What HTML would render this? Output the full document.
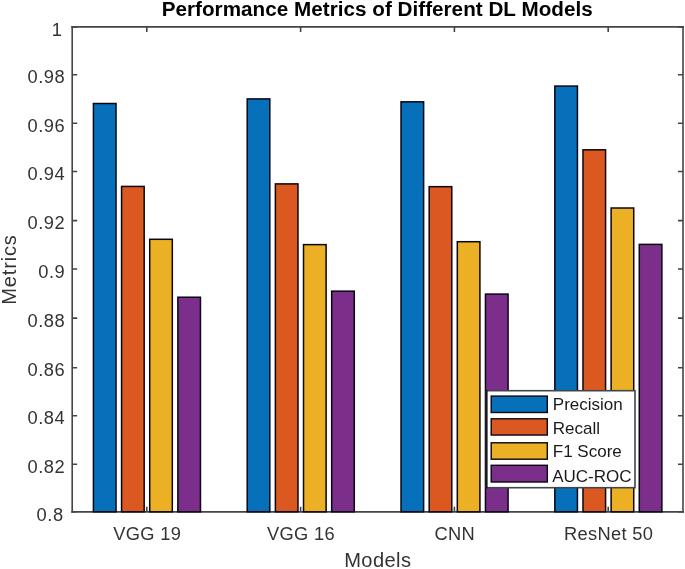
<!DOCTYPE html>
<html><head><meta charset="utf-8"><title>Performance Metrics of Different DL Models</title>
<style>
html,body{margin:0;padding:0;background:#fff;}
body{width:685px;height:569px;overflow:hidden;}
svg{display:block;font-family:"Liberation Sans",Arial,Helvetica,sans-serif;}
</style></head><body>
<svg width="685" height="569" viewBox="0 0 685 569">
<rect x="0" y="0" width="685" height="569" fill="#ffffff"/>
<path d="M72.2 26.0V512.7M683.0 26.0V512.7" stroke="#42464a" stroke-width="1.6" fill="none"/>
<path d="M71.2 26.9H684.0M71.2 511.8H684.0" stroke="#42464a" stroke-width="1.7" fill="none"/>
<path d="M72.2 26.90h5.0M683.0 26.90h-5.0M72.2 74.80h5.0M683.0 74.80h-5.0M72.2 123.20h5.0M683.0 123.20h-5.0M72.2 171.50h5.0M683.0 171.50h-5.0M72.2 220.60h5.0M683.0 220.60h-5.0M72.2 269.00h5.0M683.0 269.00h-5.0M72.2 318.10h5.0M683.0 318.10h-5.0M72.2 367.80h5.0M683.0 367.80h-5.0M72.2 415.70h5.0M683.0 415.70h-5.0M72.2 464.20h5.0M683.0 464.20h-5.0M72.2 511.80h5.0M683.0 511.80h-5.0M146.80 26.9v5.0M146.80 511.8v-5.0M300.60 26.9v5.0M300.60 511.8v-5.0M454.40 26.9v5.0M454.40 511.8v-5.0M608.20 26.9v5.0M608.20 511.8v-5.0" stroke="#42464a" stroke-width="1.6" fill="none"/>
<rect x="93.42" y="103.51" width="22.60" height="408.29" fill="#0671BA" stroke="#0a0612" stroke-width="1.5"/>
<rect x="121.58" y="186.43" width="22.60" height="325.37" fill="#DB5820" stroke="#0a0612" stroke-width="1.5"/>
<rect x="149.72" y="239.29" width="22.60" height="272.51" fill="#ECB024" stroke="#0a0612" stroke-width="1.5"/>
<rect x="177.87" y="297.23" width="22.60" height="214.57" fill="#7C2E8B" stroke="#0a0612" stroke-width="1.5"/>
<rect x="247.22" y="98.91" width="22.60" height="412.89" fill="#0671BA" stroke="#0a0612" stroke-width="1.5"/>
<rect x="275.38" y="183.89" width="22.60" height="327.91" fill="#DB5820" stroke="#0a0612" stroke-width="1.5"/>
<rect x="303.52" y="244.62" width="22.60" height="267.18" fill="#ECB024" stroke="#0a0612" stroke-width="1.5"/>
<rect x="331.68" y="291.17" width="22.60" height="220.63" fill="#7C2E8B" stroke="#0a0612" stroke-width="1.5"/>
<rect x="401.03" y="101.82" width="22.60" height="409.98" fill="#0671BA" stroke="#0a0612" stroke-width="1.5"/>
<rect x="429.18" y="186.67" width="22.60" height="325.13" fill="#DB5820" stroke="#0a0612" stroke-width="1.5"/>
<rect x="457.32" y="241.71" width="22.60" height="270.09" fill="#ECB024" stroke="#0a0612" stroke-width="1.5"/>
<rect x="485.47" y="294.08" width="22.60" height="217.72" fill="#7C2E8B" stroke="#0a0612" stroke-width="1.5"/>
<rect x="554.83" y="86.06" width="22.60" height="425.74" fill="#0671BA" stroke="#0a0612" stroke-width="1.5"/>
<rect x="582.98" y="149.82" width="22.60" height="361.98" fill="#DB5820" stroke="#0a0612" stroke-width="1.5"/>
<rect x="611.13" y="208.01" width="22.60" height="303.79" fill="#ECB024" stroke="#0a0612" stroke-width="1.5"/>
<rect x="639.28" y="244.38" width="22.60" height="267.42" fill="#7C2E8B" stroke="#0a0612" stroke-width="1.5"/>
<g font-size="18.3" fill="#333333" text-anchor="end" letter-spacing="0.55">
<text x="62.5" y="35.50">1</text>
<text x="65.3" y="83.10">0.98</text>
<text x="65.3" y="131.70">0.96</text>
<text x="65.3" y="180.30">0.94</text>
<text x="65.3" y="229.10">0.92</text>
<text x="65.3" y="277.60">0.9</text>
<text x="65.3" y="326.70">0.88</text>
<text x="65.3" y="375.60">0.86</text>
<text x="65.3" y="424.00">0.84</text>
<text x="65.3" y="472.80">0.82</text>
<text x="63.7" y="521.10">0.8</text>
</g>
<g font-size="18.3" fill="#333333" text-anchor="middle" letter-spacing="0.3">
<text x="147.25" y="539.5">VGG 19</text>
<text x="301.05" y="539.5">VGG 16</text>
<text x="454.85" y="539.5">CNN</text>
<text x="608.65" y="539.5">ResNet 50</text>
</g>
<text x="377.8" y="567.1" font-size="20.1" fill="#333333" text-anchor="middle" letter-spacing="0.4">Models</text>
<text transform="translate(15.7,269.5) rotate(-90)" font-size="20.1" fill="#333333" text-anchor="middle" letter-spacing="0.8">Metrics</text>
<text x="377.2" y="16.3" font-size="20.65" font-weight="bold" fill="#000" text-anchor="middle" letter-spacing="0.03">Performance Metrics of Different DL Models</text>
<rect x="486.2" y="390.7" width="148.80" height="97.00" fill="#fff" stroke="#42464a" stroke-width="1.6"/>
<path d="M486.5 389.90V488.50" stroke="#14141a" stroke-width="2.2" fill="none"/>
<rect x="491.2" y="396.10" width="56.1" height="16.40" fill="#0671BA" stroke="#0a0612" stroke-width="1.4"/>
<text x="552.8" y="410.20" font-size="17" fill="#1a1a1a">Precision</text>
<rect x="491.2" y="418.80" width="56.1" height="16.25" fill="#DB5820" stroke="#0a0612" stroke-width="1.4"/>
<text x="552.8" y="434.30" font-size="17" fill="#1a1a1a">Recall</text>
<rect x="491.2" y="442.80" width="56.1" height="16.40" fill="#ECB024" stroke="#0a0612" stroke-width="1.4"/>
<text x="552.8" y="457.20" font-size="17" fill="#1a1a1a">F1 Score</text>
<rect x="491.2" y="465.30" width="56.1" height="16.70" fill="#7C2E8B" stroke="#0a0612" stroke-width="1.4"/>
<text x="552.2" y="481.60" font-size="17" fill="#1a1a1a">AUC-ROC</text>
</svg></body></html>
